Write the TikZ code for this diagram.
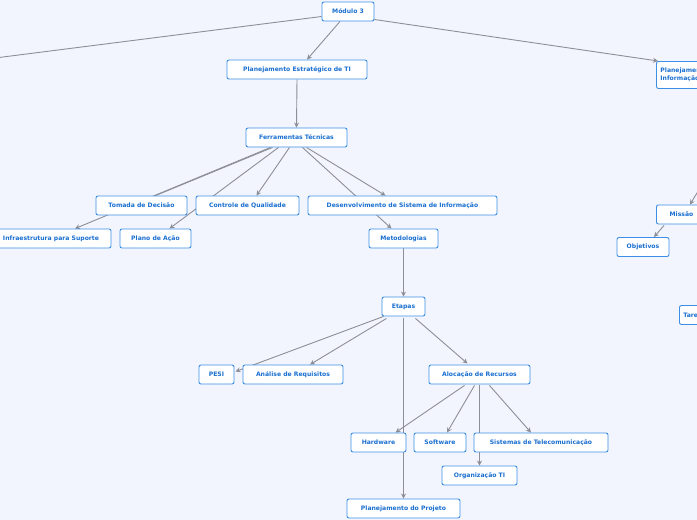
\documentclass[tikz,border=0pt]{standalone}
\usepackage{fontspec}
\setmainfont{DejaVu Sans}
\usetikzlibrary{calc,backgrounds,arrows.meta}
\definecolor{bg}{HTML}{F2F5FD}
\definecolor{bd}{HTML}{3D8FE6}
\definecolor{tx}{HTML}{1A6FD0}
\definecolor{ln}{HTML}{8E8E96}
\tikzset{
 box/.style={draw=bd,fill=white,rounded corners=2pt,line width=0.9pt,text=tx,font=\fontsize{6.1}{7.4}\selectfont\bfseries,minimum height=19pt,inner xsep=4pt,align=left,anchor=center},
 edge/.style={draw=ln,line width=0.9pt,-{Stealth[length=5pt,width=5pt]}},
 plain/.style={draw=ln,line width=0.9pt}
}
\begin{document}
\begin{tikzpicture}[x=1pt,y=-1pt]
\useasboundingbox (0,0) rectangle (697,520);
\node[box,minimum width=52pt] (mod) at (348,11.5) {Módulo 3};
\node[box,minimum width=140pt] (pet) at (297,69.5) {Planejamento Estratégico de TI};
\node[box,anchor=north west,minimum height=27pt] (psi) at (656,61) {Planejamento do Sistema de\\Informação};
\node[box,minimum width=101pt] (ft) at (296.5,137.5) {Ferramentas Técnicas};
\node[box,minimum width=91pt] (tom) at (141.5,205.5) {Tomada de Decisão};
\node[box,minimum width=103pt] (cq) at (247.5,205.5) {Controle de Qualidade};
\node[box,minimum width=189pt] (dsi) at (402.5,205.5) {Desenvolvimento de Sistema de Informação};
\node[box,minimum width=120pt] (inf) at (51,238.5) {Infraestrutura para Suporte};
\node[box,minimum width=71pt] (pa) at (155.5,238.5) {Plano de Ação};
\node[box,minimum width=69pt] (met) at (403.5,238.5) {Metodologias};
\node[box,minimum width=43pt] (eta) at (403.5,306.5) {Etapas};
\node[box,minimum width=35pt] (pesi) at (216.5,374.5) {PESI};
\node[box,minimum width=100pt] (ar) at (293,374.5) {Análise de Requisitos};
\node[box,minimum width=101pt] (alo) at (479.5,374.5) {Alocação de Recursos};
\node[box,minimum width=55pt] (hw) at (378.5,442.5) {Hardware};
\node[box,minimum width=52pt] (sw) at (440,442.5) {Software};
\node[box,minimum width=134pt] (st) at (541,442.5) {Sistemas de Telecomunicação};
\node[box,minimum width=75pt] (oti) at (479.5,475.5) {Organização TI};
\node[box,minimum width=113pt] (pp) at (403.5,508.5) {Planejamento do Projeto};
\node[box,anchor=west,minimum width=50pt] (mis) at (656,214.5) {Missão};
\node[box,minimum width=52pt] (obj) at (643,247) {Objetivos};
\node[box,anchor=west] (tar) at (679,315) {Tarefas};
\coordinate (lft) at (-5,58);
\coordinate (up) at (700,188);
\begin{scope}[on background layer]
\fill[bg] (0,0) rectangle (697,520);
\draw[plain] (mod.west) ++(0,5) -- (lft);
\draw[edge] ($(mod.south)+(-8,0)$) -- ($(pet.north)+(10,0)$);
\draw[edge] ($(mod.east)+(0,8)$) -- ($(psi.north west)+(2,0)$);
\draw[edge] (pet.south) -- (ft.north);
\draw[edge] ($(ft.south)+(-26,0)$) -- ($(inf.north)+(24,0)$);
\draw[plain] ($(ft.south)+(-24,0)$) -- ($(tom.north)+(14,0)$);
\draw[edge] ($(ft.south)+(-18,0)$) -- ($(pa.north)+(14,0)$);
\draw[edge] ($(ft.south)+(-7,0)$) -- ($(cq.north)+(9,0)$);
\draw[edge] ($(ft.south)+(6,0)$) -- ($(met.north)+(-12,0)$);
\draw[edge] ($(ft.south)+(10,0)$) -- ($(dsi.north)+(-17,0)$);
\draw[edge] (met.south) -- (eta.north);
\draw[edge] ($(eta.south)+(-20,0)$) -- ($(pesi.north)+(19,7)$);
\draw[edge] ($(eta.south)+(-17,2)$) -- ($(ar.north)+(17,0)$);
\draw[edge] ($(eta.south)+(0,2)$) -- (pp.north);
\draw[edge] ($(eta.south)+(12,2)$) -- ($(alo.north)+(-12,-1)$);
\draw[edge] ($(alo.south)+(-15,1)$) -- ($(hw.north)+(17,0)$);
\draw[edge] ($(alo.south)+(-5,1)$) -- ($(sw.north)+(7,0)$);
\draw[edge] ($(alo.south)+(0,1)$) -- (oti.north);
\draw[edge] ($(alo.south)+(10,1)$) -- ($(st.north)+(-10,0)$);
\draw[edge] (up) -- ($(mis.north west)+(34,0)$);
\draw[edge] ($(mis.south west)+(8,1)$) -- ($(obj.north)+(11,0)$);
\end{scope}
\end{tikzpicture}
\end{document}
